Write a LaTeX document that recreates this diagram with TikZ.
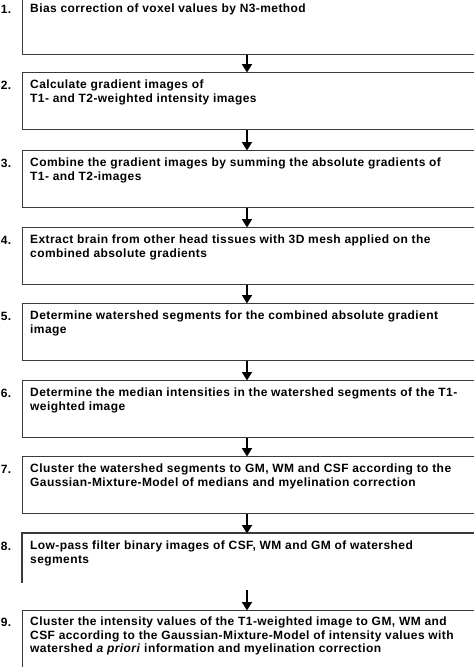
\documentclass[tikz,border=0pt]{standalone}
\usepackage{fontspec}
\setmainfont{Liberation Sans}[LetterSpace=3.5]
\usetikzlibrary{arrows.meta,calc}
\definecolor{boxline}{HTML}{3A3A3A}
\tikzset{
  stepbox/.style={draw=boxline, line width=1.3pt, rectangle, minimum width=480pt, minimum height=57pt, anchor=north west, inner sep=0pt},
  openbox/.style={rectangle, minimum width=480pt, minimum height=57pt, anchor=north west, inner sep=0pt},
  steptext/.style={anchor=north west, inner sep=0pt, align=left, font=\fontsize{12}{13.4}\selectfont\bfseries, text=black},
  stepnum/.style={anchor=north east, inner sep=0pt, font=\fontsize{12}{13.4}\selectfont\bfseries, text=black},
  flow/.style={draw=black, line width=1.8pt, -{Triangle[width=10pt,length=8.5pt]}, shorten >=-0.5pt}
}
\begin{document}
\begin{tikzpicture}[x=1pt,y=-1pt]
\useasboundingbox (0,0) rectangle (474,667);
\coordinate (ax) at (247,0);
% boxes
\node[stepbox] (b1) at (22,-3) {};
\node[stepbox] (b2) at (22,72) {};
\node[stepbox] (b3) at (22,150) {};
\node[stepbox] (b4) at (22,227) {};
\node[stepbox] (b5) at (22,303) {};
\node[stepbox] (b6) at (22,380) {};
\node[stepbox] (b7) at (22,456) {};
\node[openbox] (b8) at (22,533) {};
\draw[draw=boxline, line width=1.3pt] (b8.north east) -- (b8.north west) -- ($(b8.south west)+(0,-7)$);
\node[stepbox, minimum height=75pt] (b9) at (22,610) {};
% texts
\node[steptext] (t1) at (30,4) {Bias correction of voxel values by N3-method};
\node[steptext] (t2) at (30,80) {Calculate gradient images of\\T1- and T2-weighted intensity images};
\node[steptext] (t3) at (30,158) {Combine the gradient images by summing the absolute gradients of\\T1- and T2-images};
\node[steptext] (t4) at (30,235) {Extract brain from other head tissues with 3D mesh applied on the\\combined absolute gradients};
\node[steptext] (t5) at (30,311) {Determine watershed segments for the combined absolute gradient\\image};
\node[steptext] (t6) at (30,388) {Determine the median intensities in the watershed segments of the T1-\\weighted image};
\node[steptext] (t7) at (30,464) {Cluster the watershed segments to GM, WM and CSF according to the\\Gaussian-Mixture-Model of medians and myelination correction};
\node[steptext] (t8) at (30,541) {Low-pass filter binary images of CSF, WM and GM of watershed\\segments};
\node[steptext] (t9) at (30,617) {Cluster the intensity values of the T1-weighted image to GM, WM and\\CSF according to the Gaussian-Mixture-Model of intensity values with\\watershed \textit{a priori} information and myelination correction};
% numbers
\node[stepnum] (n1) at (11.5,5) {1.};
\node[stepnum] (n2) at (11.5,81) {2.};
\node[stepnum] (n3) at (11.5,159) {3.};
\node[stepnum] (n4) at (11.5,236) {4.};
\node[stepnum] (n5) at (11.5,312) {5.};
\node[stepnum] (n6) at (11.5,389) {6.};
\node[stepnum] (n7) at (11.5,465) {7.};
\node[stepnum] (n8) at (11.5,542) {8.};
\node[stepnum] (n9) at (11.5,618) {9.};
% arrows
\draw[flow] (b1.south -| ax) -- (b2.north -| ax);
\draw[flow] (b2.south -| ax) -- (b3.north -| ax);
\draw[flow] (b3.south -| ax) -- (b4.north -| ax);
\draw[flow] (b4.south -| ax) -- (b5.north -| ax);
\draw[flow] (b5.south -| ax) -- (b6.north -| ax);
\draw[flow] (b6.south -| ax) -- (b7.north -| ax);
\draw[flow] (b7.south -| ax) -- (b8.north -| ax);
\draw[flow] (b8.south -| ax) -- (b9.north -| ax);
\end{tikzpicture}
\end{document}
